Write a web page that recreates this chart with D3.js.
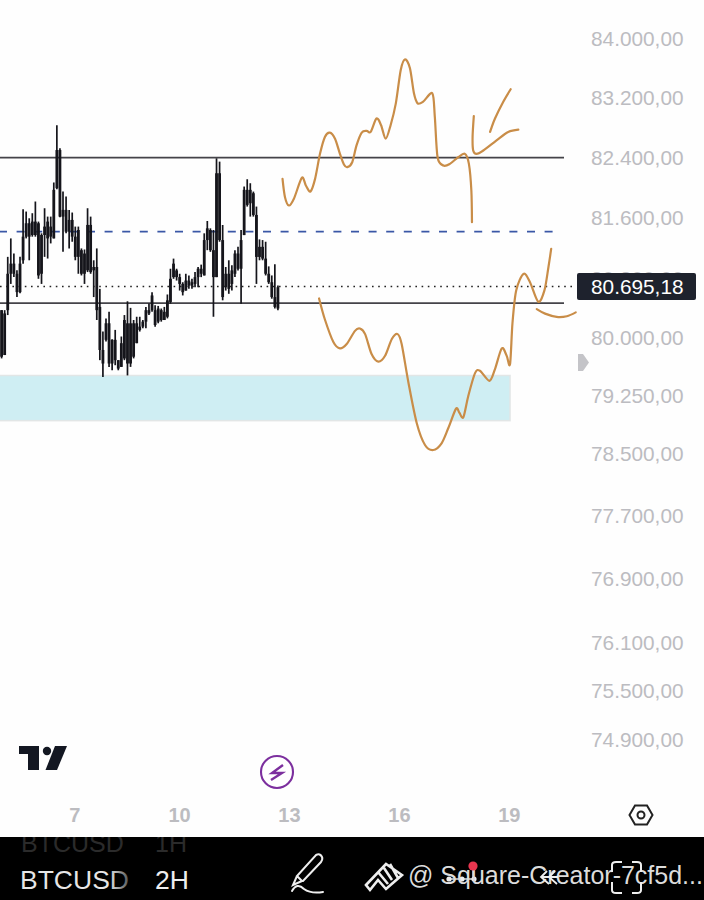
<!DOCTYPE html>
<html>
<head>
<meta charset="utf-8">
<script src="https://cdn.jsdelivr.net/npm/d3@7"></script>
<style>
html, body { margin: 0; padding: 0; background: #fff; }
svg { display: block; }
text { font-family: "Liberation Sans", sans-serif; }
</style>
</head>
<body>
<script>
// 2H candles, oldest first
var opens = [80375,79777,80375,80862,80995,80862,80619,81039,81350,81527,81372,81549,81527,80862,81372,81549,81350,81327,81992,82501,81615,81704,81416,81571,81350,81084,81172,80862,80907,81505,80907,80951,80419,79843,79976,80198,79666,79976,79710,79622,79732,80198,79666,80198,79932,80109,80153,80220,80375,
  80574,80375,80220,80375,80242,80286,80486,80818,80906,80818,80729,80640,80773,80707,80729,80818,80928,80840,81305,81438,81172,80818,82191,81305,80685,80862,80729,80862,81128,80928,81371,81970,81792,81925,81637,81083,81216,81061,80862,80751,80552,80685];
var highs = [80375,80375,81084,81327,81128,80907,81084,81713,81682,81593,81660,81815,81549,81394,81726,81615,81615,82068,82834,82524,81948,81881,81704,81669,81483,81483,81195,81181,81726,81615,81039,81195,80663,80087,80264,80353,79983,80109,79710,80020,80309,80495,80406,80242,80286,80286,80242,80419,80464,
  80618,80441,80432,80397,80419,80587,80928,81061,80928,80862,80751,80862,80840,80796,80884,80951,80982,81394,81557,81460,81438,82390,82346,81504,80951,81039,80973,81172,81216,81438,82014,82111,82058,81947,81748,81314,81305,81283,80959,80840,80986,80707];
var lows = [79733,79777,80309,80729,80818,80552,80605,80995,81327,81039,81350,81350,80796,80729,81084,81062,81261,81327,81979,81606,81150,81394,81195,81283,81039,80862,80840,80729,80884,80862,80552,80242,79710,79489,79954,79622,79578,79644,79578,79622,79710,79511,79622,79733,79932,80087,80131,80131,80309,
  80353,80153,80198,80220,80242,80264,80463,80796,80773,80640,80574,80640,80663,80663,80685,80685,80818,80840,81172,81150,80286,80818,81283,80508,80640,80596,80640,80818,80906,80463,81371,81748,81615,81615,80729,81039,81039,80840,80729,80530,80397,80375];
var closes = [79755,80331,80862,80995,80862,80619,80995,81350,81527,81350,81549,81372,80840,81372,81483,81327,81483,81970,82501,81615,81704,81416,81571,81350,81084,81438,80862,81128,81505,80884,80951,80375,79843,79666,80198,79666,79976,79710,79600,79932,80242,79666,80198,79755,80198,80153,80220,80375,80331,
  80375,80175,80397,80242,80353,80508,80796,80995,80818,80729,80618,80773,80707,80751,80818,80928,80862,81305,81460,81172,80818,82191,81305,80552,80862,80663,80906,81128,80928,81305,81970,81770,81970,81637,81083,81216,81061,80862,80751,80552,80419,80397];

// hand drawn projections: bar position and price
var stroke1Bars = [91.5,92.3,93.6,95.2,97.8,99.1,100.6,102.1,103.7,105.3,106.9,108.6,110.2,111.5,112.6,114.2,115.6,117.3,118.9,120.2,122.1,123.6,125.1,126.7,128.4,130,131.4,133,134.3,135.5,137.3,140.3,141.1,142,143.9,146,148.7,150.9,152.2,153,153.2];
var stroke1Prices = [82116,81873,81762,81851,82130,82028,81948,82116,82450,82676,82734,82653,82450,82307,82272,82338,82563,82734,82757,82744,82924,82834,82653,82834,83128,83580,83724,83602,83263,83128,83150,83263,82947,82405,82294,82316,82405,82450,82316,81961,81541];
var stroke2Bars = [153.8,153.4,153.6,154.7,156.9,161.2,165,168.3];
var stroke2Prices = [82956,82676,82495,82450,82495,82631,82744,82775];
var stroke3Bars = [159.1,160.7,163.4,165.8];
var stroke3Prices = [82744,82924,83150,83318];
var stroke4Bars = [103.4,105.3,108.1,110.2,112.4,115.1,116.7,118.4,120.5,122.7,124.9,127.1,129,130.3,132.5,135.2,137.9,140.6,143.3,145.5,148,149.1,150.4,152,154.2,155.8,158.9,160.7,162.9,164.5,165.6,166.4,167.6,170,172.1,174.8,176.8,178.1,179];
var stroke4Prices = [80533,80249,79943,79864,79921,80096,80127,80052,79790,79690,79768,79987,80052,79921,79419,78894,78610,78545,78632,78829,79078,79025,78969,79244,79541,79572,79441,79594,79864,79768,79659,80205,80642,80861,80752,80489,80642,80948,81188];
var stroke5Bars = [174.3,177,180.8,184.1,187];
var stroke5Prices = [80389,80328,80284,80293,80345];

var priceTicks = [84000,83200,82400,81600,80800,80000,79250,78500,77700,76900,76100,75500,74900];
var priceLabels = ["84.000,00","83.200,00","82.400,00","81.600,00","80.800,00","80.000,00","79.250,00","78.500,00","77.700,00","76.900,00","76.100,00","75.500,00","74.900,00"];
var dayBars = [23.7,57.8,93.6,129.4,165.2];
var dayLabels = ["7","10","13","16","19"];

var lastPrice = 80695.18, lastLabel = "80.695,18";
var resistance = 82400, support = 80470, midLevel = 81416;
var zoneTop = 79510, zoneBottom = 78924;

var width = 704, height = 900;

var svg = d3.select("body").append("svg")
    .attr("width", width)
    .attr("height", height);

svg.append("rect").attr("width", width).attr("height", height).attr("fill", "#fefefe");

var x = d3.scaleLinear().domain([0, 165]).range([1.6, 508.2]);
var y = d3.scaleLog()
    .domain([84000, lastPrice, 80000, 74900])
    .range([39, 286.5, 338, 740]);

// demand zone
svg.append("rect")
    .attr("x", -2)
    .attr("y", y(zoneTop))
    .attr("width", x(165.6) + 2)
    .attr("height", y(zoneBottom) - y(zoneTop))
    .attr("fill", "#cfeef3")
    .attr("stroke", "#e2e6e6")
    .attr("stroke-width", 1.5);

// levels
svg.selectAll(".level")
    .data([resistance, support])
    .enter().append("line")
    .attr("class", "level")
    .attr("x1", 0).attr("x2", 564)
    .attr("y1", function(d) { return y(d); })
    .attr("y2", function(d) { return y(d); })
    .attr("stroke", "#444349")
    .attr("stroke-width", 1.6);

svg.append("line")
    .attr("x1", -1).attr("x2", 561)
    .attr("y1", y(midLevel)).attr("y2", y(midLevel))
    .attr("stroke", "#3a57a6")
    .attr("stroke-width", 1.7)
    .attr("stroke-dasharray", "8,9.6");

svg.append("line")
    .attr("x1", 0).attr("x2", 573)
    .attr("y1", y(lastPrice)).attr("y2", y(lastPrice))
    .attr("stroke", "#222")
    .attr("stroke-width", 1.6)
    .attr("stroke-dasharray", "1.6,4.6");

// candles
var candles = svg.append("g").selectAll("g")
    .data(d3.range(opens.length))
    .enter().append("g");

candles.append("line")
    .attr("x1", function(i) { return x(i); })
    .attr("x2", function(i) { return x(i); })
    .attr("y1", function(i) { return y(highs[i]); })
    .attr("y2", function(i) { return y(lows[i]); })
    .attr("stroke", "#15151b")
    .attr("stroke-width", 1.7);

candles.append("rect")
    .attr("x", function(i) { return x(i) - 1.4; })
    .attr("width", 2.8)
    .attr("y", function(i) { return y(Math.max(opens[i], closes[i])); })
    .attr("height", function(i) { return Math.abs(y(opens[i]) - y(closes[i])); })
    .attr("fill", "#15151b");

// drawn lines
var line = d3.line()
    .x(function(d) { return x(d[0]); })
    .y(function(d) { return y(d[1]); })
    .curve(d3.curveCardinal.tension(0.1));

[[stroke1Bars, stroke1Prices], [stroke2Bars, stroke2Prices], [stroke3Bars, stroke3Prices],
 [stroke4Bars, stroke4Prices], [stroke5Bars, stroke5Prices]].forEach(function(s) {
    svg.append("path")
        .attr("d", line(d3.zip(s[0], s[1])))
        .attr("fill", "none")
        .attr("stroke", "#c98d48")
        .attr("stroke-width", 2.2)
        .attr("stroke-linecap", "round");
});

// price axis
var priceAxis = svg.append("g")
    .attr("transform", "translate(591,0)")
    .call(d3.axisRight(y).tickValues(priceTicks).tickSize(0).tickPadding(0)
        .tickFormat(function(d, i) { return priceLabels[i]; }));
priceAxis.select(".domain").remove();
priceAxis.selectAll("text")
    .attr("font-family", "Liberation Sans, sans-serif")
    .attr("font-size", 20.8)
    .attr("fill", "#bcbcc1");

// last price tag
svg.append("rect")
    .attr("x", 577).attr("y", y(lastPrice) - 13.5)
    .attr("width", 119).attr("height", 27).attr("rx", 2)
    .attr("fill", "#1e222d");
svg.append("text")
    .attr("x", 591).attr("y", y(lastPrice) + 7)
    .attr("font-size", 20.8)
    .attr("fill", "#ffffff")
    .text(lastLabel);

// scroll arrow
svg.append("path").attr("d", "M578,354 L583,354 L589,362.5 L583,371 L578,371 Z").attr("fill", "#c4c4c8");

// day axis
var dayAxis = svg.append("g")
    .attr("transform", "translate(0,808)")
    .call(d3.axisBottom(x).tickValues(dayBars).tickSize(0).tickPadding(0)
        .tickFormat(function(d, i) { return dayLabels[i]; }));
dayAxis.select(".domain").remove();
dayAxis.selectAll("text")
    .attr("font-family", "Liberation Sans, sans-serif")
    .attr("font-size", 20)
    .attr("font-weight", "bold")
    .attr("fill", "#bcbcc0");

// tradingview logo
svg.append("path").attr("d", "M19,746 H39 V770 H28 V754 H19 Z").attr("fill", "#131722");
svg.append("circle").attr("cx", 47).attr("cy", 751).attr("r", 4.2).attr("fill", "#131722");
svg.append("path").attr("d", "M55,746 H67 L57,770 H45.5 Z").attr("fill", "#131722");

// lightning badge
svg.append("circle").attr("cx", 277).attr("cy", 772).attr("r", 16)
    .attr("fill", "#fff").attr("stroke", "#7c2f9e").attr("stroke-width", 2.1);
svg.append("path").attr("d", "M283,765 L272,773 H282 L271,780")
    .attr("fill", "none").attr("stroke", "#7c2f9e").attr("stroke-width", 2.4);

// settings hexagon
svg.append("path").attr("d", "M629.5,815 L635,805.5 H647 L652.5,815 L647,824.5 H635 Z")
    .attr("fill", "none").attr("stroke", "#222").attr("stroke-width", 2);
svg.append("circle").attr("cx", 641).attr("cy", 815).attr("r", 3.5)
    .attr("fill", "none").attr("stroke", "#222").attr("stroke-width", 2);

// bottom toolbar
svg.append("rect").attr("y", 837).attr("width", width).attr("height", 63).attr("fill", "#000");

var fade = svg.append("defs").append("linearGradient").attr("id", "fade");
fade.append("stop").attr("offset", "0.82").attr("stop-color", "#e6e6e6");
fade.append("stop").attr("offset", "1").attr("stop-color", "#555");

svg.append("clipPath").attr("id", "bar").append("rect")
    .attr("y", 837).attr("width", width).attr("height", 63);
var bar = svg.append("g").attr("clip-path", "url(#bar)");

bar.append("text").attr("x", 21).attr("y", 852).attr("font-size", 25).attr("fill", "#2b2b2b").text("BTCUSD");
bar.append("text").attr("x", 155).attr("y", 852).attr("font-size", 25).attr("fill", "#2b2b2b").text("1H");
bar.append("text").attr("x", 20).attr("y", 889).attr("font-size", 26.5).attr("fill", "url(#fade)").text("BTCUSD");
bar.append("text").attr("x", 155).attr("y", 889).attr("font-size", 26.5).attr("fill", "#eee").text("2H");

// pen icon
bar.append("path")
    .attr("d", "M302,881 L297,876 L316,855 Q320,853 322,857 Q323,859 321,862 L303,881 Z M297,876 L293,885 L302,881 M292,891 Q297,882 304,889 Q311,894 323,892")
    .attr("fill", "none").attr("stroke", "#eee").attr("stroke-width", 2).attr("stroke-linecap", "round");

// brush icon
bar.append("path")
    .attr("d", "M366,885 L386,864 L402,875 L386,889 L378,880 L370,890 Z M384,868 L392,880 M390,864 L398,878 M378,872 L388,884")
    .attr("fill", "none").attr("stroke", "#eee").attr("stroke-width", 2.6);

// overlapping toolbar glyphs
bar.append("path").attr("d", "M449,879 H474 M473,866 V878").attr("stroke", "#ddd").attr("stroke-width", 1.4);
[449, 462, 474].forEach(function(cx) {
    bar.append("circle").attr("cx", cx).attr("cy", 879).attr("r", 2.6).attr("fill", "#eee");
});

bar.append("text")
    .attr("x", 408).attr("y", 884)
    .attr("font-family", "Liberation Sans, sans-serif")
    .attr("font-size", 25)
    .attr("fill", "#dcdcdc")
    .text("@ Square-Creator-7cf5d...");

bar.append("circle").attr("cx", 473).attr("cy", 866).attr("r", 4.6).attr("fill", "#e8364f");

bar.append("path").attr("d", "M547,871 L541,877 L549,884 M541,877 H558 M555,871 L549,877 L557,884")
    .attr("fill", "none").attr("stroke", "#eee").attr("stroke-width", 1.8);
bar.append("path").attr("d", "M612,872 V865 Q612,862 616,862 H622 M632,862 H637 Q641,862 641,865 V872 M612,882 V890 Q612,893 616,893 H622 M632,893 H637 Q641,893 641,890 V882")
    .attr("fill", "none").attr("stroke", "#eee").attr("stroke-width", 2);
</script>
</body>
</html>
